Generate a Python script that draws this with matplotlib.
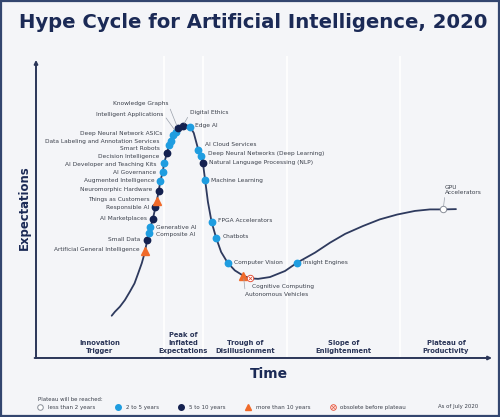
import matplotlib.pyplot as plt
from matplotlib.lines import Line2D
from matplotlib.patches import Rectangle
from matplotlib.legend_handler import HandlerTuple

# positions: time 0-100 along the x axis, expectations 0-100 up the y axis
curve_time = [16.6, 17.3, 18.4, 19.5, 20.6, 21.6, 22.4, 23.2, 23.7, 23.9,
              24.4, 24.7, 25.1, 25.6, 26.2, 26.5, 26.9, 27.3, 27.8, 28.1, 28.7, 29.2, 29.6,
              30.0, 30.7, 31.1, 32.2, 32.8, 33.8, 34.6, 35.6, 36.1, 36.6, 37.1, 37.7, 38.5,
              39.5, 40.6, 42.0, 43.6, 45.5, 46.9, 48.7, 51.3, 54.6, 57.3, 61.2, 64.5, 67.8,
              71.7, 75.4, 79.2, 83.1, 86.4, 89.3, 92.1]
curve_expect = [14.0, 15.3, 17.0, 19.2, 22.0, 24.7, 28.0, 31.4, 34.1, 35.4,
                39.0, 41.3, 43.3, 45.9, 49.9, 52.0, 55.4, 58.7, 61.7, 64.5, 67.8, 70.4, 72.0,
                73.7, 74.9, 76.1, 76.9, 77.2, 76.6, 74.5, 68.9, 66.9, 64.6, 58.8, 51.7, 45.1,
                39.8, 35.1, 31.6, 29.0, 27.2, 26.4, 26.2, 26.8, 28.8, 31.6, 34.9, 38.2, 41.1,
                43.7, 45.9, 47.5, 48.7, 49.2, 49.2, 49.3]

tech_names = ["Artificial General Intelligence", "Small Data", "Composite AI", "Generative AI",
              "AI Marketplaces", "Responsible AI", "Things as Customers", "Neuromorphic Hardware",
              "Augmented Intelligence", "AI Governance", "AI Developer and Teaching Kits",
              "Decision Intelligence", "Smart Robots", "Data Labeling and Annotation Services",
              "Deep Neural Network ASICs", "Intelligent Applications", "Knowledge Graphs",
              "Digital Ethics", "Edge AI", "AI Cloud Services", "Deep Neural Networks (Deep Learning)",
              "Natural Language Processing (NLP)", "Machine Learning", "FPGA Accelerators", "Chatbots",
              "Computer Vision", "Autonomous Vehicles", "Cognitive Computing", "Insight Engines",
              "GPU\nAccelerators"]
tech_time = [23.9, 24.4, 24.7, 25.1, 25.6, 26.2, 26.5, 26.9, 27.3, 27.8, 28.1, 28.7, 29.2, 29.6,
             30.0, 30.7, 31.1, 32.2, 33.8, 35.6, 36.1, 36.6, 37.1, 38.5, 39.5, 42.0, 45.5, 46.9,
             57.3, 89.3]
tech_expect = [35.4, 39.0, 41.3, 43.3, 45.9, 49.9, 52.0, 55.4, 58.7, 61.7, 64.5, 67.8, 70.4, 72.0,
               73.7, 74.9, 76.1, 76.9, 76.6, 68.9, 66.9, 64.6, 58.8, 45.1, 39.8, 31.6, 27.2, 26.4,
               31.6, 49.2]
tech_plateau = ["gt10", "5to10", "2to5", "2to5", "5to10", "5to10", "gt10", "5to10",
                "2to5", "2to5", "2to5", "5to10", "2to5", "2to5", "2to5", "2to5", "5to10",
                "5to10", "2to5", "2to5", "2to5", "5to10", "2to5", "2to5", "2to5",
                "2to5", "gt10", "obsolete", "2to5", "lt2"]

plateau_keys = ["lt2", "2to5", "5to10", "gt10", "obsolete"]
plateau_labels = ["less than 2 years", "2 to 5 years", "5 to 10 years", "more than 10 years",
                  "obsolete before plateau"]

phase_names = ["Innovation\nTrigger", "Peak of\nInflated\nExpectations", "Trough of\nDisillusionment",
               "Slope of\nEnlightenment", "Plateau of\nProductivity"]
phase_edges = [0, 28.0, 36.7, 55.0, 79.8, 100]

NAVY = "#1b2a56"
LBLUE = "#1f9de0"
DBLUE = "#142150"
ORANGE = "#f06a2a"
RED = "#e5533c"
TXT = "#3b404b"
BG = "#f4f5f8"

# label placement: pixel offset from the dot, alignment, leader line (relpos on text) or None
layout = {
    "Artificial General Intelligence": (-5, 1.3, "right", None),
    "Small Data": (-6.6, 0.6, "right", None),
    "Composite AI": (7.3, -1, "left", None),
    "Generative AI": (5.7, 0, "left", None),
    "AI Marketplaces": (-6, 0.6, "right", None),
    "Responsible AI": (-6, -0.4, "right", None),
    "Things as Customers": (-6.7, 1, "right", None),
    "Neuromorphic Hardware": (-6.7, 0.7, "right", None),
    "Augmented Intelligence": (-5.4, 0.7, "right", None),
    "AI Governance": (-6.7, -0.6, "right", None),
    "AI Developer and Teaching Kits": (-7.3, -1.4, "right", None),
    "Decision Intelligence": (-7.7, -3, "right", None),
    "Smart Robots": (-9, -3.5, "right", None),
    "Data Labeling and Annotation Services": (-11.7, -1.2, "right", None),
    "Deep Neural Network ASICs": (-10.3, 2.2, "right", None),
    "Intelligent Applications": (-12.7, 17.7, "right", (1, 0.5)),
    "Knowledge Graphs": (-9.7, 24.3, "right", (1, 0.5)),
    "Digital Ethics": (7.3, 13.7, "left", (0, 0.3)),
    "Edge AI": (5, 0.7, "left", None),
    "AI Cloud Services": (6.5, 5.7, "left", None),
    "Deep Neural Networks (Deep Learning)": (7.2, 2.7, "left", None),
    "Natural Language Processing (NLP)": (6.3, 0.7, "left", None),
    "Machine Learning": (5.4, 0.3, "left", None),
    "FPGA Accelerators": (6, 1, "left", None),
    "Chatbots": (6.7, 1, "left", None),
    "Computer Vision": (6, 0, "left", None),
    "Autonomous Vehicles": (1.7, -18.3, "left", (0, 1)),
    "Cognitive Computing": (2.3, -8.4, "left", None),
    "Insight Engines": (6, 0, "left", None),
    "GPU\nAccelerators": (1.7, 19.6, "left", (0, 0)),
}


def marker_handles(key, ms=4.6):
    if key == "lt2":
        return [Line2D([], [], ls="none", marker="o", ms=ms, mfc="white", mec="#8a8f99", mew=0.7)]
    if key == "2to5":
        return [Line2D([], [], ls="none", marker="o", ms=ms, mfc=LBLUE, mec=LBLUE)]
    if key == "5to10":
        return [Line2D([], [], ls="none", marker="o", ms=ms, mfc=DBLUE, mec=DBLUE)]
    if key == "gt10":
        return [Line2D([], [], ls="none", marker="^", ms=ms + 0.6, mfc=ORANGE, mec=ORANGE)]
    return [Line2D([], [], ls="none", marker="o", ms=ms, mfc="white", mec=RED, mew=0.7),
            Line2D([], [], ls="none", marker="x", ms=ms * 0.45, mec=RED, mew=0.6)]


fig = plt.figure(figsize=(5, 4.17), dpi=100, facecolor=BG)
fig.patches.append(Rectangle((0.002, 0.002), 0.996, 0.996, transform=fig.transFigure,
                             fill=False, edgecolor="#33466f", lw=1.6))

ax = fig.add_axes([0.072, 0.1415, 0.912, 0.7242])
ax.set_facecolor(BG)
ax.set_xlim(0, 100)
ax.set_ylim(0, 100)
ax.set_axis_off()

for edge in phase_edges[1:-1]:
    ax.axvline(edge, color="white", lw=1.2, zorder=0)
for i, name in enumerate(phase_names):
    mid = (phase_edges[i] + phase_edges[i + 1]) / 2
    ax.text(mid, 1.2, name, ha="center", va="bottom", fontsize=4.9, fontweight="bold",
            color="#2a3558", linespacing=1.4)

ax.annotate("", xy=(0, 98.7), xytext=(0, 0), annotation_clip=False,
            arrowprops=dict(arrowstyle="-|>", color="#2a3558", lw=1.4, mutation_scale=5, shrinkA=0, shrinkB=0))
ax.annotate("", xy=(100, 0), xytext=(-0.3, 0), annotation_clip=False,
            arrowprops=dict(arrowstyle="-|>", color="#2a3558", lw=1.4, mutation_scale=5, shrinkA=0, shrinkB=0))

ax.plot(curve_time, curve_expect, color="#2e3a5e", lw=1.3, zorder=2,
        solid_capstyle="round", solid_joinstyle="round")

for name, t, e, key in zip(tech_names, tech_time, tech_expect, tech_plateau):
    for h in marker_handles(key):
        ax.plot([t], [e], ls="none", marker=h.get_marker(), ms=h.get_markersize(),
                mfc=h.get_markerfacecolor(), mec=h.get_markeredgecolor(), mew=h.get_markeredgewidth(),
                zorder=3)
    dx, dy, ha, rel = layout[name]
    arrow = None
    if rel is not None:
        arrow = dict(arrowstyle="-", color="#9aa0aa", lw=0.5, relpos=rel, shrinkA=0, shrinkB=2)
    ax.annotate(name, xy=(t, e), xytext=(dx, dy), textcoords="offset pixels", ha=ha, va="center",
                fontsize=4.2, color=TXT, arrowprops=arrow, linespacing=1.0, zorder=4)

fig.text(0.506, 0.947, "Hype Cycle for Artificial Intelligence, 2020", ha="center", va="center",
         fontsize=14.1, fontweight="bold", color=NAVY)
fig.text(0.048, 0.501, "Expectations", rotation=90, ha="center", va="center",
         fontsize=8.4, fontweight="bold", color=NAVY)
fig.text(0.538, 0.103, "Time", ha="center", va="center", fontsize=10, fontweight="bold", color=NAVY)

handles = [tuple(marker_handles(k, ms=4)) for k in plateau_keys]
leg = fig.legend(handles, plateau_labels, ncol=5, loc="lower left", bbox_to_anchor=(0.065, 0.005),
                 frameon=False, fontsize=4.0, title="Plateau will be reached:", title_fontsize=3.9,
                 alignment="left", handletextpad=0.9, columnspacing=3.55, handlelength=1.0,
                 handler_map={tuple: HandlerTuple(ndivide=1, pad=0)})
for t in leg.get_texts():
    t.set_color(TXT)
leg.get_title().set_color(TXT)
fig.text(0.875, 0.026, "As of July 2020", ha="left", va="center", fontsize=3.9, color=TXT)

fig.savefig("out.png", dpi=100, facecolor=BG)
